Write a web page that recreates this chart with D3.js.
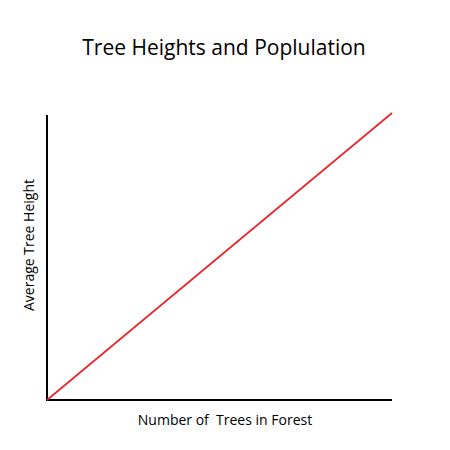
<!DOCTYPE html>
<html><head><meta charset="utf-8">
<script src="https://cdn.jsdelivr.net/npm/d3@7"></script>
<style>body{margin:0;background:#fff}</style>
</head><body>
<svg id="c" width="450" height="450"></svg>
<script>
const treeCount = [0, 1];
const avgHeight = [0, 1];
const title = "Tree Heights and Poplulation";
const xLabel = "Number of  Trees in Forest";
const yLabel = "Average Tree Height";

const svg = d3.select("#c");
const font = "'Open Sans', 'Noto Sans', sans-serif";
const x = d3.scaleLinear().domain([0,1]).range([47,392]);
const y = d3.scaleLinear().domain([0,1]).range([400,113]);

svg.append("text").attr("x",224).attr("y",55).attr("text-anchor","middle")
  .attr("font-family",font).attr("font-size",21).attr("fill","#000").text(title);

svg.append("line").attr("x1",x(0)).attr("x2",x(0)).attr("y1",400).attr("y2",115)
  .attr("stroke","#000").attr("stroke-width",2);
svg.append("line").attr("x1",x(0)-1).attr("x2",x(1)).attr("y1",400).attr("y2",400)
  .attr("stroke","#000").attr("stroke-width",2);

const data = treeCount.map((d,i)=>[d,avgHeight[i]]);
svg.append("path").datum(data)
  .attr("d", d3.line().x(d=>x(d[0])).y(d=>y(d[1])))
  .attr("fill","none").attr("stroke","#e8262b").attr("stroke-width",1.7);

svg.append("text").attr("x",225).attr("y",425).attr("text-anchor","middle")
  .attr("font-family",font).attr("font-size",14).attr("xml:space","preserve")
  .style("white-space","pre").text(xLabel);
svg.append("text").attr("transform","translate(34,245) rotate(-90)").attr("text-anchor","middle")
  .attr("font-family",font).attr("font-size",14).text(yLabel);
</script>
</body></html>
